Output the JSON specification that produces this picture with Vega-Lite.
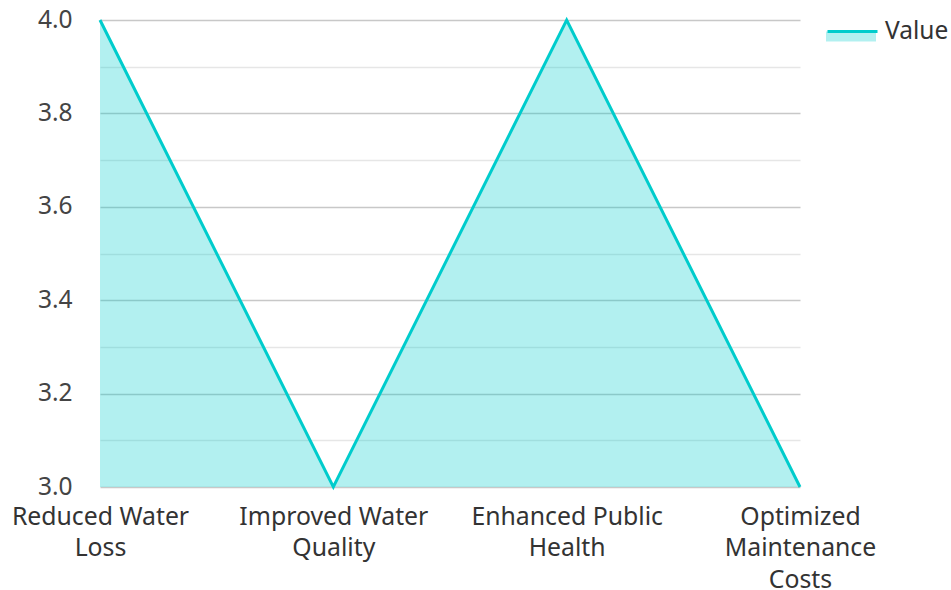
{
  "$schema": "https://vega.github.io/schema/vega-lite/v6.json",
  "width": 700,
  "height": 467,
  "autosize": {"type": "none"},
  "padding": {"left": 100, "top": 20, "right": 151, "bottom": 103},
  "config": {
    "font": "Noto Sans",
    "view": {"stroke": null}
  },
  "data": {
    "values": [
      {"category": "Reduced Water Loss", "value": 4.0, "series": "Value"},
      {"category": "Improved Water Quality", "value": 3.0, "series": "Value"},
      {"category": "Enhanced Public Health", "value": 4.0, "series": "Value"},
      {"category": "Optimized Maintenance Costs", "value": 3.0, "series": "Value"}
    ]
  },
  "encoding": {
    "x": {
      "field": "category",
      "type": "nominal",
      "sort": null,
      "scale": {"type": "point", "padding": 0},
      "axis": {
        "title": null,
        "labelAngle": 0,
        "domain": false,
        "ticks": false,
        "grid": false,
        "labelFontSize": 24.8,
        "labelLimit": 0,
        "labelColor": "#333333",
        "labelPadding": 17,
        "labelLineHeight": 31.5,
        "labelExpr": "datum.label == 'Optimized Maintenance Costs' ? ['Optimized','Maintenance','Costs'] : [join(slice(split(datum.label,' '),0,2),' '), join(slice(split(datum.label,' '),2),' ')]"
      }
    },
    "y": {
      "field": "value",
      "type": "quantitative",
      "scale": {"domain": [3.0, 4.0], "zero": false, "nice": false},
      "axis": {
        "title": null,
        "values": [3.0, 3.1, 3.2, 3.3, 3.4, 3.5, 3.6, 3.7, 3.8, 3.9, 4.0],
        "format": ".1f",
        "labelExpr": "round(datum.value*10) % 2 == 0 ? datum.label : ''",
        "domain": false,
        "ticks": false,
        "grid": true,
        "gridColor": {"condition": {"test": "round(datum.value*10) % 2 == 0", "value": "#c8c8c8"}, "value": "#e6e6e6"},
        "gridWidth": 1.5,
        "labelFontSize": 24.5,
        "labelColor": "#444444",
        "labelPadding": 28
      }
    }
  },
  "layer": [
    {
      "mark": {"type": "area", "opacity": 0.3, "color": "#00cccc", "clip": true},
      "encoding": {
        "fill": {
          "field": "series",
          "type": "nominal",
          "scale": {"range": ["#00cccc"]},
          "legend": {
            "title": null,
            "orient": "none",
            "legendX": 726,
            "legendY": -15,
            "symbolType": "M-1,0.06H1V0.46H-1Z",
            "symbolSize": 2500,
            "symbolOpacity": 0.3,
            "symbolStrokeWidth": 0,
            "labelFontSize": 24.5,
            "labelExpr": "''",
            "labelOffset": 6
          }
        }
      }
    },
    {
      "mark": {"type": "line", "strokeWidth": 3, "color": "#00cccc"},
      "encoding": {
        "stroke": {
          "field": "series",
          "type": "nominal",
          "scale": {"range": ["#00cccc"]},
          "legend": {
            "title": null,
            "orient": "none",
            "legendX": 726,
            "legendY": -15,
            "symbolType": "stroke",
            "symbolSize": 2500,
            "symbolStrokeWidth": 3,
            "labelFontSize": 24.5,
            "labelColor": "#333333",
            "labelOffset": 6
          }
        }
      }
    }
  ]
}
